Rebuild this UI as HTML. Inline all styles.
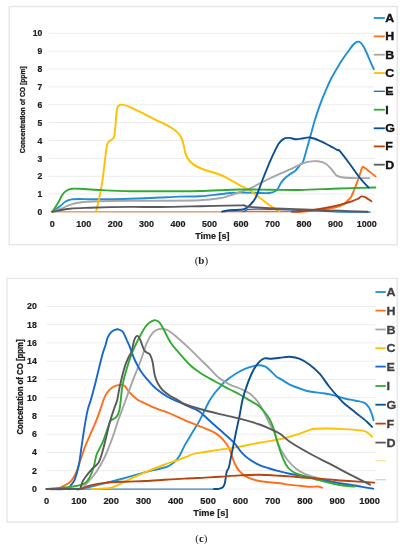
<!DOCTYPE html>
<html lang="en"><head><meta charset="utf-8"><title>Concentration of CO</title>
<style>
html,body{margin:0;padding:0;background:#fff}
svg{display:block}
.ax{font-family:"Liberation Sans",sans-serif;font-weight:bold;fill:#1c1c1c;stroke:#1c1c1c;stroke-width:.2px}
.yt{stroke-width:.3px}
.lg{fill:#111;stroke:#111;stroke-width:.35px}
.lg2{fill:#404040;stroke:#404040;stroke-width:.3px}
.cap{font-family:"Liberation Serif",serif;fill:#222}
.ln{fill:none;stroke-linecap:round;stroke-linejoin:round}
</style></head><body>
<svg width="403" height="550" viewBox="0 0 403 550">
<rect width="403" height="550" fill="#fff"/>

<g id="chart-b">
<rect x="9.3" y="6.5" width="387.9" height="238.2" fill="#fff" stroke="#e6e6e6" stroke-width="1.4"/>
<line x1="48.5" x2="374.5" y1="212.0" y2="212.0" stroke="#ececec" stroke-width="1"/>
<line x1="48.5" x2="374.5" y1="194.1" y2="194.1" stroke="#ececec" stroke-width="1"/>
<line x1="48.5" x2="374.5" y1="176.3" y2="176.3" stroke="#ececec" stroke-width="1"/>
<line x1="48.5" x2="374.5" y1="158.4" y2="158.4" stroke="#ececec" stroke-width="1"/>
<line x1="48.5" x2="374.5" y1="140.5" y2="140.5" stroke="#ececec" stroke-width="1"/>
<line x1="48.5" x2="374.5" y1="122.6" y2="122.6" stroke="#ececec" stroke-width="1"/>
<line x1="48.5" x2="374.5" y1="104.8" y2="104.8" stroke="#ececec" stroke-width="1"/>
<line x1="48.5" x2="374.5" y1="86.9" y2="86.9" stroke="#ececec" stroke-width="1"/>
<line x1="48.5" x2="374.5" y1="69.0" y2="69.0" stroke="#ececec" stroke-width="1"/>
<line x1="48.5" x2="374.5" y1="51.2" y2="51.2" stroke="#ececec" stroke-width="1"/>
<line x1="48.5" x2="374.5" y1="33.3" y2="33.3" stroke="#ececec" stroke-width="1"/>
<text class="ax" x="42.2" y="215.1" font-size="8.6" text-anchor="end">0</text>
<text class="ax" x="42.2" y="197.2" font-size="8.6" text-anchor="end">1</text>
<text class="ax" x="42.2" y="179.4" font-size="8.6" text-anchor="end">2</text>
<text class="ax" x="42.2" y="161.5" font-size="8.6" text-anchor="end">3</text>
<text class="ax" x="42.2" y="143.6" font-size="8.6" text-anchor="end">4</text>
<text class="ax" x="42.2" y="125.7" font-size="8.6" text-anchor="end">5</text>
<text class="ax" x="42.2" y="107.9" font-size="8.6" text-anchor="end">6</text>
<text class="ax" x="42.2" y="90.0" font-size="8.6" text-anchor="end">7</text>
<text class="ax" x="42.2" y="72.1" font-size="8.6" text-anchor="end">8</text>
<text class="ax" x="42.2" y="54.3" font-size="8.6" text-anchor="end">9</text>
<text class="ax" x="42.2" y="36.4" font-size="8.6" text-anchor="end">10</text>
<text class="ax" x="52.3" y="226.6" font-size="9" text-anchor="middle">0</text>
<text class="ax" x="83.8" y="226.6" font-size="9" text-anchor="middle">100</text>
<text class="ax" x="115.2" y="226.6" font-size="9" text-anchor="middle">200</text>
<text class="ax" x="146.6" y="226.6" font-size="9" text-anchor="middle">300</text>
<text class="ax" x="178.1" y="226.6" font-size="9" text-anchor="middle">400</text>
<text class="ax" x="209.6" y="226.6" font-size="9" text-anchor="middle">500</text>
<text class="ax" x="241.0" y="226.6" font-size="9" text-anchor="middle">600</text>
<text class="ax" x="272.4" y="226.6" font-size="9" text-anchor="middle">700</text>
<text class="ax" x="303.9" y="226.6" font-size="9" text-anchor="middle">800</text>
<text class="ax" x="335.4" y="226.6" font-size="9" text-anchor="middle">900</text>
<text class="ax" x="366.8" y="226.6" font-size="9" text-anchor="middle">1000</text>
<text class="ax" x="212.4" y="238.5" font-size="9" text-anchor="middle">Time [s]</text>
<text class="ax yt" transform="translate(24.5,109.7) rotate(-90)" font-size="7.2" text-anchor="middle" textLength="87" lengthAdjust="spacingAndGlyphs">Concentration of CO [ppm]</text>
<line x1="52.3" x2="226" y1="211.8" y2="211.8" stroke="#e4a27c" stroke-width="1.4"/>
<line x1="224" x2="302" y1="211.5" y2="211.5" stroke="#ea6c2c" stroke-width="1.5"/>
<path class="ln" d="M52.3,211.7C52.8,211.3 53.7,210.4 55.0,209.5C56.3,208.6 58.1,207.7 59.9,206.3C61.7,204.9 63.9,202.5 65.9,201.3C67.9,200.2 69.5,199.8 71.8,199.4C74.1,199.0 77.0,199.0 80.0,199.0C83.0,199.0 84.7,199.2 89.7,199.2C94.7,199.2 103.3,199.3 110.0,199.2C116.7,199.1 121.7,199.1 130.0,198.8C138.3,198.5 151.7,197.9 160.0,197.5C168.3,197.1 173.2,196.8 179.8,196.6C186.4,196.4 193.1,196.6 199.7,196.2C206.3,195.8 214.4,194.8 219.5,194.3C224.6,193.8 226.6,193.3 230.0,193.0C233.4,192.7 235.8,192.6 240.0,192.6C244.2,192.6 250.1,192.7 255.0,192.8C259.9,192.9 266.1,193.4 269.7,193.0C273.3,192.6 274.8,192.0 276.6,190.4C278.4,188.8 279.3,185.5 280.6,183.5C281.9,181.5 283.1,180.0 284.6,178.5C286.1,177.0 287.7,175.9 289.5,174.6C291.3,173.3 293.7,172.3 295.5,170.6C297.3,168.9 299.1,166.0 300.4,164.6C301.6,163.2 302.1,164.2 303.0,162.0C303.9,159.8 304.9,155.7 306.0,151.7C307.1,147.7 308.4,143.2 309.9,137.9C311.4,132.6 313.2,125.4 314.9,120.0C316.5,114.6 318.0,110.2 319.8,105.3C321.6,100.4 323.8,95.0 325.8,90.4C327.8,85.8 329.3,82.0 331.7,77.5C334.1,73.0 337.9,66.8 340.0,63.3C342.1,59.8 342.9,58.8 344.3,56.7C345.8,54.6 347.2,52.7 348.7,50.7C350.1,48.8 351.7,46.4 353.0,45.0C354.3,43.6 355.6,42.7 356.5,42.1C357.4,41.5 357.6,41.6 358.2,41.6C358.8,41.6 359.5,41.6 360.4,42.4C361.3,43.2 362.5,44.8 363.4,46.3C364.3,47.8 365.1,49.6 366.0,51.5C366.9,53.4 367.8,55.4 368.7,57.6C369.6,59.8 370.8,62.7 371.7,64.6C372.6,66.5 373.4,68.4 373.8,69.2" stroke="#1f8fd8" stroke-width="1.9"/>
<path class="ln" d="M296.0,211.8C297.0,211.8 298.0,211.9 302.0,211.6C306.0,211.2 314.2,210.4 319.8,209.7C325.4,209.0 331.7,208.2 335.7,207.3C339.7,206.4 341.7,205.5 343.7,204.3C345.7,203.1 346.6,201.6 347.8,200.3C349.1,199.1 350.1,198.7 351.2,196.8C352.3,194.9 353.4,191.8 354.5,189.0C355.6,186.2 356.9,182.9 357.9,180.1C358.9,177.3 360.0,174.2 360.6,172.3C361.2,170.4 361.4,169.3 361.8,168.4C362.2,167.5 362.5,167.1 362.9,166.9C363.3,166.7 363.0,166.6 364.0,167.3C365.0,168.0 367.1,169.7 369.0,171.2C370.9,172.7 374.6,175.6 375.7,176.5" stroke="#ff6e1a" stroke-width="1.9"/>
<path class="ln" d="M52.3,211.7C53.9,211.1 59.0,209.4 61.9,208.3C64.8,207.2 66.8,205.9 69.8,204.9C72.8,203.9 74.8,203.1 79.8,202.5C84.8,201.9 91.2,201.6 99.6,201.3C108.0,201.0 119.9,200.9 130.0,200.8C140.1,200.7 148.4,200.9 160.0,200.8C171.6,200.7 189.8,200.7 199.7,200.3C209.6,199.9 214.6,199.1 219.5,198.3C224.4,197.5 226.0,196.7 229.4,195.6C232.8,194.5 236.6,193.2 240.0,192.0C243.4,190.8 244.9,190.8 249.8,188.5C254.8,186.2 263.1,181.7 269.7,178.5C276.3,175.3 284.6,171.9 289.5,169.6C294.4,167.3 296.3,166.1 299.4,164.8C302.5,163.5 304.8,162.5 307.9,161.9C311.0,161.3 314.9,161.0 317.9,161.3C320.9,161.6 323.5,162.3 325.8,163.7C328.1,165.1 329.9,167.6 331.7,169.6C333.5,171.6 334.7,174.3 336.7,175.6C338.7,176.9 340.5,177.1 343.7,177.5C346.9,177.9 351.3,178.0 355.6,178.1C359.9,178.2 367.1,178.1 369.4,178.1" stroke="#a6a6a6" stroke-width="1.9"/>
<path class="ln" d="M96.0,211.7C96.3,210.6 96.8,208.7 97.6,205.3C98.4,201.9 99.7,196.1 100.6,191.4C101.5,186.7 102.1,183.3 102.9,177.3C103.7,171.3 104.8,160.8 105.5,155.5C106.2,150.2 106.4,147.9 106.9,145.6C107.5,143.3 107.7,142.9 108.8,141.6C109.9,140.3 112.8,139.4 113.8,137.6C114.8,135.8 114.6,133.4 114.9,131.0C115.2,128.6 115.4,126.3 115.7,122.9C116.0,119.5 116.4,113.3 116.8,110.6C117.2,107.8 117.4,107.4 117.9,106.4C118.5,105.4 119.3,105.1 120.1,104.8C120.9,104.5 121.5,104.5 122.9,104.7C124.3,105.0 125.7,105.2 128.5,106.3C131.3,107.4 135.1,109.3 139.6,111.6C144.1,113.8 150.4,117.2 155.5,119.8C160.6,122.3 166.2,124.7 169.9,126.9C173.6,129.1 175.9,130.8 177.9,132.8C179.9,134.8 180.8,136.7 181.8,138.8C182.8,141.0 183.2,143.4 183.8,145.7C184.4,148.0 184.5,150.5 185.2,152.7C185.9,154.8 186.4,156.6 187.8,158.6C189.2,160.6 191.0,162.8 193.7,164.6C196.3,166.4 199.4,167.8 203.7,169.5C208.0,171.2 215.2,172.8 219.5,174.5C223.8,176.2 226.0,177.6 229.4,179.4C232.8,181.2 236.6,183.6 240.0,185.4C243.4,187.2 244.9,187.1 249.8,190.4C254.8,193.7 265.2,202.1 269.7,205.3C274.1,208.5 274.9,208.8 276.5,209.8C278.1,210.8 279.0,211.0 279.5,211.2" stroke="#ffc000" stroke-width="1.9"/>
<path class="ln" d="M243.0,211.6C243.5,211.4 245.1,210.8 246.0,210.4C246.9,210.0 246.2,209.6 248.5,209.4C250.8,209.2 255.6,209.1 260.0,209.1C264.4,209.1 268.3,209.3 275.0,209.5C281.7,209.7 289.9,210.0 300.0,210.4C310.1,210.8 324.0,211.6 335.7,211.9C347.4,212.2 364.3,212.1 370.0,212.2" stroke="#1668cf" stroke-width="1.2"/>
<path class="ln" d="M52.3,211.7C53.2,210.3 56.3,206.0 57.9,203.3C59.5,200.6 60.6,197.5 61.9,195.4C63.2,193.3 64.2,192.1 65.9,191.0C67.6,189.9 69.5,189.2 71.8,188.8C74.1,188.4 75.2,188.6 79.8,188.8C84.4,189.0 91.2,189.6 99.6,190.0C108.0,190.4 119.9,191.0 130.0,191.2C140.1,191.4 148.4,191.3 160.0,191.3C171.6,191.3 186.4,191.3 199.7,191.0C213.0,190.7 228.3,189.7 240.0,189.5C251.7,189.3 260.0,189.7 270.0,189.8C280.0,189.9 288.4,190.2 300.0,190.0C311.6,189.8 327.1,188.9 339.7,188.5C352.3,188.1 369.4,187.7 375.4,187.5" stroke="#33aa33" stroke-width="1.9"/>
<path class="ln" d="M222.0,211.6C223.3,211.4 227.0,210.5 230.0,210.2C233.0,209.9 237.7,210.0 240.0,209.8C242.3,209.6 242.8,209.6 244.0,209.2C245.2,208.8 246.0,208.3 247.0,207.6C248.0,206.9 248.3,206.9 249.8,205.2C251.3,203.5 253.7,201.7 255.8,197.4C257.9,193.1 260.1,186.1 262.7,179.5C265.3,172.9 269.0,163.6 271.7,157.7C274.4,151.8 276.6,147.0 278.6,143.8C280.6,140.7 281.8,139.8 283.6,138.8C285.4,137.8 287.5,137.8 289.5,137.9C291.5,138.0 293.2,139.1 295.5,139.2C297.8,139.3 301.0,138.6 303.4,138.3C305.8,138.0 307.2,137.1 309.9,137.5C312.6,137.9 316.5,139.4 319.8,140.8C323.1,142.2 326.8,144.2 329.8,145.8C332.8,147.4 336.1,149.4 337.7,150.2C339.3,151.0 337.7,148.6 339.7,150.8C341.7,153.1 346.3,159.2 349.6,163.7C352.9,168.1 356.4,173.5 359.5,177.5C362.6,181.5 367.0,185.8 368.5,187.5" stroke="#0d4f8f" stroke-width="1.9"/>
<path class="ln" d="M292.0,211.8C292.7,211.8 294.5,211.7 296.0,211.6C297.5,211.5 297.0,211.6 301.0,211.2C305.0,210.8 313.4,209.9 319.8,208.9C326.2,207.9 334.4,206.2 339.7,204.9C345.0,203.6 348.6,202.3 351.6,201.3C354.6,200.3 355.9,199.8 357.5,199.0C359.1,198.2 360.2,196.7 361.5,196.4C362.8,196.1 363.9,196.6 365.5,197.4C367.1,198.2 370.4,200.7 371.4,201.3" stroke="#b8430f" stroke-width="1.9"/>
<path class="ln" d="M52.3,211.7C55.2,211.2 63.6,209.4 69.8,208.7C76.0,208.0 79.7,208.0 89.7,207.7C99.7,207.4 118.3,207.0 130.0,206.9C141.7,206.8 148.3,207.1 160.0,207.0C171.7,206.9 186.7,206.5 200.0,206.2C213.3,205.9 232.7,205.6 240.0,205.4C247.3,205.2 242.3,205.1 243.9,205.3C245.5,205.6 245.5,206.4 249.8,206.9C254.1,207.4 263.1,208.0 269.7,208.3C276.3,208.6 282.8,208.7 289.5,208.9C296.2,209.2 301.6,209.5 310.0,209.8C318.4,210.1 330.4,210.5 340.0,210.8C349.6,211.1 362.9,211.5 367.5,211.7" stroke="#5a5a5a" stroke-width="1.9"/>
<line x1="373.8" x2="384.8" y1="18.0" y2="18.0" stroke="#1f8fd8" stroke-width="1.8"/>
<text class="ax lg" transform="translate(385.2,21.9) scale(1.13,1)" font-size="11">A</text>
<line x1="373.8" x2="384.8" y1="36.4" y2="36.4" stroke="#ff6e1a" stroke-width="1.8"/>
<text class="ax lg" transform="translate(385.2,40.3) scale(1.13,1)" font-size="11">H</text>
<line x1="373.8" x2="384.8" y1="54.7" y2="54.7" stroke="#a6a6a6" stroke-width="1.8"/>
<text class="ax lg" transform="translate(385.2,58.6) scale(1.13,1)" font-size="11">B</text>
<line x1="373.8" x2="384.8" y1="73.0" y2="73.0" stroke="#ffc000" stroke-width="1.8"/>
<text class="ax lg" transform="translate(385.2,76.9) scale(1.13,1)" font-size="11">C</text>
<line x1="373.8" x2="384.8" y1="91.3" y2="91.3" stroke="#1668cf" stroke-width="1.3"/>
<text class="ax lg" transform="translate(385.2,95.2) scale(1.13,1)" font-size="11">E</text>
<line x1="373.8" x2="384.8" y1="109.7" y2="109.7" stroke="#33aa33" stroke-width="1.8"/>
<text class="ax lg" transform="translate(385.2,113.6) scale(1.13,1)" font-size="11">I</text>
<line x1="373.8" x2="384.8" y1="128.3" y2="128.3" stroke="#0d4f8f" stroke-width="1.8"/>
<text class="ax lg" transform="translate(385.2,132.2) scale(1.13,1)" font-size="11">G</text>
<line x1="373.8" x2="384.8" y1="146.4" y2="146.4" stroke="#b8430f" stroke-width="1.8"/>
<text class="ax lg" transform="translate(385.2,150.3) scale(1.13,1)" font-size="11">F</text>
<line x1="373.8" x2="384.8" y1="164.7" y2="164.7" stroke="#5a5a5a" stroke-width="1.8"/>
<text class="ax lg" transform="translate(385.2,168.6) scale(1.13,1)" font-size="11">D</text>
<text class="cap" x="201.4" y="264" font-size="11" text-anchor="middle">(<tspan font-weight="bold">b</tspan>)</text>
</g>
<g id="chart-c">
<rect x="6.9" y="278.4" width="390.3" height="243.7" fill="#fff" stroke="#e6e6e6" stroke-width="1.4"/>
<line x1="46.5" x2="375.5" y1="489.0" y2="489.0" stroke="#ececec" stroke-width="1"/>
<line x1="46.5" x2="375.5" y1="470.7" y2="470.7" stroke="#ececec" stroke-width="1"/>
<line x1="46.5" x2="375.5" y1="452.5" y2="452.5" stroke="#ececec" stroke-width="1"/>
<line x1="46.5" x2="375.5" y1="434.2" y2="434.2" stroke="#ececec" stroke-width="1"/>
<line x1="46.5" x2="375.5" y1="416.0" y2="416.0" stroke="#ececec" stroke-width="1"/>
<line x1="46.5" x2="375.5" y1="397.7" y2="397.7" stroke="#ececec" stroke-width="1"/>
<line x1="46.5" x2="375.5" y1="379.4" y2="379.4" stroke="#ececec" stroke-width="1"/>
<line x1="46.5" x2="375.5" y1="361.2" y2="361.2" stroke="#ececec" stroke-width="1"/>
<line x1="46.5" x2="375.5" y1="342.9" y2="342.9" stroke="#ececec" stroke-width="1"/>
<line x1="46.5" x2="375.5" y1="324.7" y2="324.7" stroke="#ececec" stroke-width="1"/>
<line x1="46.5" x2="375.5" y1="306.4" y2="306.4" stroke="#ececec" stroke-width="1"/>
<text class="ax" x="36.8" y="491.9" font-size="8.8" text-anchor="end">0</text>
<text class="ax" x="36.8" y="473.6" font-size="8.8" text-anchor="end">2</text>
<text class="ax" x="36.8" y="455.4" font-size="8.8" text-anchor="end">4</text>
<text class="ax" x="36.8" y="437.1" font-size="8.8" text-anchor="end">6</text>
<text class="ax" x="36.8" y="418.9" font-size="8.8" text-anchor="end">8</text>
<text class="ax" x="36.8" y="400.6" font-size="8.8" text-anchor="end">10</text>
<text class="ax" x="36.8" y="382.3" font-size="8.8" text-anchor="end">12</text>
<text class="ax" x="36.8" y="364.1" font-size="8.8" text-anchor="end">14</text>
<text class="ax" x="36.8" y="345.8" font-size="8.8" text-anchor="end">16</text>
<text class="ax" x="36.8" y="327.6" font-size="8.8" text-anchor="end">18</text>
<text class="ax" x="36.8" y="309.3" font-size="8.8" text-anchor="end">20</text>
<text class="ax" x="46.6" y="504.2" font-size="9.3" text-anchor="middle">0</text>
<text class="ax" x="78.9" y="504.2" font-size="9.3" text-anchor="middle">100</text>
<text class="ax" x="111.2" y="504.2" font-size="9.3" text-anchor="middle">200</text>
<text class="ax" x="143.5" y="504.2" font-size="9.3" text-anchor="middle">300</text>
<text class="ax" x="175.8" y="504.2" font-size="9.3" text-anchor="middle">400</text>
<text class="ax" x="208.1" y="504.2" font-size="9.3" text-anchor="middle">500</text>
<text class="ax" x="240.4" y="504.2" font-size="9.3" text-anchor="middle">600</text>
<text class="ax" x="272.7" y="504.2" font-size="9.3" text-anchor="middle">700</text>
<text class="ax" x="305.0" y="504.2" font-size="9.3" text-anchor="middle">800</text>
<text class="ax" x="337.3" y="504.2" font-size="9.3" text-anchor="middle">900</text>
<text class="ax" x="369.6" y="504.2" font-size="9.3" text-anchor="middle">1000</text>
<text class="ax" x="210.9" y="516" font-size="9.2" text-anchor="middle">Time [s]</text>
<text class="ax yt" transform="translate(22.9,387) rotate(-90)" font-size="8.4" text-anchor="middle" textLength="95" lengthAdjust="spacingAndGlyphs">Concetration of CO [ppm]</text>
<line x1="46.6" x2="218" y1="489.1" y2="489.1" stroke="#4080bf" stroke-width="1.4"/>
<path class="ln" d="M76.0,489.0C76.8,489.0 76.0,489.8 80.7,488.9C85.5,487.9 97.1,485.1 104.5,483.3C111.9,481.5 118.3,479.8 125.0,478.0C131.7,476.2 138.2,474.1 144.8,472.4C151.4,470.6 160.5,468.7 164.7,467.5C168.9,466.3 168.3,466.2 170.0,465.2C171.7,464.2 173.3,463.4 174.9,461.7C176.5,460.0 178.2,457.9 179.8,455.2C181.4,452.5 183.1,448.4 184.7,445.4C186.3,442.4 188.0,439.9 189.6,437.2C191.2,434.5 192.9,431.7 194.5,429.0C196.1,426.3 197.8,423.9 199.4,420.9C201.0,417.9 202.7,414.4 204.3,411.1C205.9,407.8 207.6,404.2 209.2,401.3C210.8,398.4 212.5,396.1 214.1,393.9C215.7,391.7 217.2,390.3 219.0,388.2C220.8,386.1 222.2,383.9 225.0,381.5C227.8,379.1 232.3,375.8 235.7,373.7C239.1,371.6 242.6,370.0 245.6,368.7C248.6,367.4 251.3,366.7 253.6,366.1C255.9,365.5 257.5,365.2 259.5,365.3C261.5,365.4 263.5,365.6 265.5,366.7C267.5,367.8 269.6,370.0 271.4,371.7C273.2,373.4 275.0,375.5 276.4,376.6C277.8,377.8 277.8,377.3 280.0,378.6C282.2,379.9 286.5,383.0 289.8,384.6C293.1,386.2 296.5,387.4 299.8,388.5C303.1,389.6 305.7,390.7 309.7,391.5C313.7,392.3 319.6,392.7 323.6,393.3C327.6,393.9 330.4,394.4 333.9,395.3C337.4,396.2 341.2,397.6 344.8,398.5C348.4,399.4 352.4,400.0 355.7,400.7C359.0,401.4 362.3,401.8 364.5,402.9C366.7,404.0 367.5,405.3 368.8,407.3C370.1,409.3 371.3,412.7 372.1,414.9C372.9,417.1 373.4,419.5 373.6,420.4" stroke="#1f8fd8" stroke-width="1.9"/>
<path class="ln" d="M46.6,489.0C48.3,489.0 53.9,489.5 56.9,488.9C59.9,488.3 62.5,486.6 64.8,485.3C67.1,484.0 69.0,483.3 70.8,481.3C72.6,479.3 74.1,477.0 75.8,473.4C77.5,469.8 79.2,463.8 80.7,459.5C82.2,455.2 83.1,451.9 84.7,447.6C86.3,443.3 88.6,438.3 90.6,433.7C92.6,429.1 94.8,424.4 96.6,419.8C98.4,415.2 100.3,409.3 101.5,406.0C102.7,402.7 102.6,402.1 103.5,400.0C104.4,397.9 105.2,395.4 106.7,393.3C108.2,391.2 110.4,388.7 112.6,387.3C114.8,385.9 117.6,385.1 119.6,384.9C121.6,384.7 122.8,384.7 124.5,385.9C126.2,387.1 127.5,390.1 129.5,392.3C131.5,394.5 134.7,397.4 136.4,398.8C138.2,400.2 136.9,399.5 140.0,401.0C143.1,402.5 149.8,405.8 154.8,407.9C159.8,410.0 164.8,411.3 170.0,413.5C175.2,415.7 180.9,418.6 186.3,420.9C191.8,423.2 198.1,425.5 202.7,427.4C207.3,429.3 211.1,430.7 214.1,432.3C217.1,433.9 218.6,435.3 220.7,437.2C222.8,439.1 224.8,441.6 226.4,443.8C228.0,446.0 228.6,447.0 230.0,450.3C231.4,453.6 233.1,460.0 234.7,463.5C236.3,467.0 237.5,469.1 239.7,471.4C241.8,473.7 244.3,475.8 247.6,477.4C250.9,479.0 255.9,480.2 259.5,481.0C263.1,481.8 266.0,481.9 269.4,482.3C272.8,482.7 276.5,482.9 279.9,483.3C283.3,483.7 286.5,484.5 289.8,484.9C293.1,485.3 296.5,485.4 299.8,485.7C303.1,486.0 306.7,486.8 309.7,486.9C312.7,487.0 315.6,486.4 317.6,486.5C319.7,486.6 321.3,487.5 322.0,487.7" stroke="#ff6e1a" stroke-width="1.9"/>
<path class="ln" d="M76.0,489.0C76.8,488.9 78.6,489.9 80.7,488.6C82.8,487.3 86.1,484.2 88.7,481.3C91.3,478.4 94.0,475.4 96.6,471.4C99.2,467.4 101.8,463.1 104.5,457.5C107.2,451.9 110.2,444.0 112.5,437.7C114.8,431.4 116.3,425.8 118.4,419.8C120.5,413.9 122.7,408.4 125.0,402.0C127.3,395.6 129.9,388.1 132.5,381.3C135.1,374.6 138.0,367.9 140.4,361.5C142.8,355.1 144.8,347.5 146.9,342.7C149.0,337.9 150.9,334.9 152.9,332.7C154.9,330.4 157.2,329.8 158.8,329.2C160.5,328.6 161.2,328.5 162.8,328.8C164.5,329.1 166.0,329.2 168.7,330.8C171.3,332.4 175.0,335.6 178.7,338.7C182.3,341.8 186.6,345.8 190.6,349.6C194.6,353.4 199.3,358.3 202.5,361.5C205.7,364.7 207.0,365.8 209.9,368.7C212.8,371.6 216.5,376.0 219.8,378.6C223.1,381.2 226.5,383.0 229.8,384.6C233.1,386.2 236.4,387.0 239.7,388.5C243.0,390.0 246.6,391.4 249.6,393.5C252.6,395.6 255.2,398.4 257.5,401.4C259.8,404.4 261.5,407.6 263.5,411.3C265.5,415.0 267.6,419.9 269.4,423.3C271.1,426.8 272.6,428.7 274.0,432.0C275.4,435.3 276.6,439.7 277.9,443.0C279.2,446.3 280.2,448.7 281.9,451.6C283.6,454.5 285.6,457.7 287.9,460.5C290.2,463.3 293.2,466.4 295.8,468.5C298.4,470.6 301.1,472.1 303.7,473.4C306.3,474.7 309.0,475.6 311.7,476.4C314.4,477.2 316.0,477.5 319.6,478.4C323.2,479.3 328.4,481.0 333.5,482.0C338.6,483.0 345.6,483.8 350.0,484.5C354.4,485.2 358.3,485.8 360.0,486.0" stroke="#a6a6a6" stroke-width="1.9"/>
<path class="ln" d="M92.0,489.0C93.4,488.9 97.2,488.9 100.6,488.6C104.0,488.3 108.4,488.5 112.5,487.3C116.6,486.1 119.6,484.0 125.0,481.5C130.4,479.0 138.2,475.2 144.8,472.4C151.4,469.6 159.4,466.5 164.7,464.5C170.0,462.5 173.3,461.7 176.6,460.5C179.9,459.3 181.5,458.6 184.5,457.5C187.5,456.4 191.0,454.5 194.4,453.6C197.8,452.7 200.8,452.7 205.0,452.0C209.2,451.3 214.0,450.5 219.8,449.6C225.6,448.7 233.1,447.8 239.7,446.6C246.3,445.5 252.8,443.9 259.5,442.7C266.2,441.5 274.8,440.3 279.9,439.3C284.9,438.3 286.5,437.6 289.8,436.7C293.1,435.8 296.5,434.8 299.8,433.7C303.1,432.6 307.1,430.6 309.7,429.8C312.3,429.0 312.3,429.0 315.6,428.8C318.9,428.6 324.6,428.4 329.5,428.5C334.4,428.6 339.3,428.8 344.8,429.1C350.3,429.5 358.5,430.0 362.3,430.6C366.1,431.2 366.1,431.8 367.7,432.8C369.3,433.8 371.4,436.1 372.1,436.7" stroke="#ffc000" stroke-width="1.9"/>
<path class="ln" d="M46.6,489.0C50.0,489.0 62.8,489.5 66.8,488.9C70.8,488.3 69.5,486.9 70.8,485.3C72.1,483.7 73.5,482.7 74.8,479.4C76.1,476.1 77.5,471.1 78.7,465.5C79.9,459.9 80.7,452.2 81.7,445.6C82.7,439.0 83.7,431.8 84.7,425.8C85.7,419.9 86.7,414.2 87.7,409.9C88.7,405.6 89.6,404.1 90.8,400.0C92.0,395.9 93.5,390.4 94.8,385.3C96.1,380.2 97.4,374.7 98.7,369.4C100.0,364.1 101.6,357.7 102.7,353.6C103.8,349.5 104.8,347.6 105.6,345.0C106.4,342.4 106.6,339.9 107.5,337.8C108.4,335.7 110.0,333.5 111.2,332.2C112.4,330.9 113.7,330.4 114.9,329.9C116.1,329.4 117.0,329.1 118.3,329.3C119.5,329.6 121.4,330.4 122.4,331.4C123.5,332.4 123.8,333.6 124.6,335.1C125.3,336.6 126.2,338.6 126.9,340.3C127.7,342.0 128.4,343.6 129.1,345.2C129.8,346.8 129.8,347.1 130.8,349.6C131.8,352.2 133.3,356.9 135.0,360.5C136.7,364.1 138.7,367.9 141.0,371.4C143.3,374.9 146.3,378.3 148.9,381.3C151.5,384.3 153.8,386.8 156.8,389.3C159.8,391.8 163.1,394.1 166.7,396.2C170.3,398.3 174.0,399.9 178.6,402.0C183.2,404.1 190.8,407.3 194.4,409.0C198.0,410.7 197.4,410.0 200.0,412.0C202.6,414.0 206.6,418.0 209.9,421.0C213.2,424.0 216.5,426.9 219.8,429.8C223.1,432.8 227.2,436.2 229.8,438.7C232.5,441.2 233.7,442.3 235.7,444.6C237.7,446.9 239.4,450.1 241.7,452.6C244.0,455.1 246.6,457.4 249.6,459.5C252.6,461.6 256.2,463.6 259.5,465.1C262.8,466.6 266.0,467.4 269.4,468.5C272.8,469.6 276.5,470.5 279.9,471.4C283.3,472.3 284.8,472.8 289.8,473.8C294.8,474.8 303.1,476.1 309.7,477.4C316.3,478.6 323.6,480.1 329.5,481.3C335.4,482.5 339.3,483.4 344.8,484.3C350.3,485.2 357.6,486.2 362.3,486.9C367.0,487.6 371.4,488.4 373.2,488.7" stroke="#1668cf" stroke-width="1.9"/>
<path class="ln" d="M46.6,489.0C48.3,488.9 52.2,488.8 56.9,488.3C61.6,487.9 70.2,487.1 74.8,486.3C79.4,485.5 82.2,484.8 84.7,483.3C87.2,481.8 88.1,480.0 89.6,477.4C91.1,474.8 92.4,471.3 93.6,467.5C94.8,463.7 95.1,458.7 96.6,454.6C98.1,450.5 100.5,447.5 102.5,442.7C104.5,437.9 107.2,429.4 108.5,425.8C109.8,422.2 109.2,422.3 110.5,420.8C111.8,419.3 114.9,418.7 116.4,416.9C117.9,415.1 118.7,412.7 119.4,409.9C120.1,407.1 120.3,404.1 120.8,400.0C121.3,395.9 121.5,390.4 122.5,385.3C123.5,380.2 124.8,375.0 126.5,369.4C128.2,363.8 130.5,356.6 132.5,351.6C134.5,346.6 136.7,342.6 138.4,339.2C140.1,335.8 141.1,333.9 142.5,331.5C143.9,329.1 145.3,326.5 146.9,324.8C148.5,323.1 150.4,321.9 151.9,321.2C153.4,320.5 154.5,320.1 155.8,320.4C157.1,320.7 158.5,321.2 159.8,322.8C161.1,324.4 162.0,326.5 163.8,329.8C165.6,333.1 168.2,338.9 170.7,342.7C173.2,346.5 175.4,348.8 178.7,352.6C182.0,356.4 187.0,362.1 190.6,365.5C194.2,368.9 196.8,370.5 200.0,372.7C203.2,374.9 206.6,376.7 209.9,378.6C213.2,380.5 216.5,382.2 219.8,384.0C223.1,385.8 226.5,387.8 229.8,389.5C233.1,391.2 236.4,392.7 239.7,394.5C243.0,396.3 246.3,398.4 249.6,400.4C252.9,402.4 256.9,404.2 259.5,406.4C262.1,408.5 263.8,411.0 265.5,413.3C267.2,415.6 268.6,417.2 270.0,420.0C271.4,422.8 272.7,425.9 274.0,429.8C275.3,433.8 276.6,439.4 277.9,443.7C279.2,448.0 280.6,452.1 281.9,455.6C283.2,459.1 284.6,462.2 285.9,464.5C287.2,466.8 288.1,467.9 289.8,469.4C291.5,470.9 293.2,472.2 295.8,473.4C298.4,474.6 301.7,475.2 305.7,476.4C309.7,477.6 315.0,479.2 319.6,480.4C324.2,481.6 329.3,482.8 333.5,483.7C337.7,484.6 341.3,485.3 344.8,485.8C348.3,486.3 353.0,486.4 354.6,486.5" stroke="#33aa33" stroke-width="1.9"/>
<path class="ln" d="M214.0,489.0C214.8,489.0 217.3,489.2 218.8,488.9C220.3,488.6 221.8,488.2 222.8,487.3C223.8,486.4 224.1,486.0 224.8,483.3C225.5,480.6 226.1,474.0 226.8,471.4C227.5,468.8 228.0,470.5 228.8,467.5C229.6,464.5 230.5,459.2 231.7,453.6C232.8,448.0 234.4,440.1 235.7,433.7C237.0,427.3 238.5,420.8 239.7,415.0C240.9,409.2 241.4,404.2 242.7,399.0C244.0,393.8 245.8,388.5 247.6,383.6C249.4,378.7 251.6,373.4 253.6,369.7C255.6,366.0 257.7,363.6 259.5,361.7C261.3,359.8 262.5,358.9 264.5,358.4C266.5,357.9 268.8,358.9 271.4,358.8C274.0,358.7 276.8,358.1 279.9,357.8C283.0,357.5 286.5,356.6 289.8,356.8C293.1,357.0 296.5,357.5 299.8,358.8C303.1,360.1 306.4,362.2 309.7,364.7C313.0,367.2 316.3,370.0 319.6,373.7C322.9,377.4 326.2,382.9 329.5,387.0C332.8,391.1 336.8,395.7 339.4,398.5C341.9,401.3 342.1,401.6 344.8,404.0C347.5,406.4 352.1,409.8 355.7,412.7C359.3,415.6 363.9,419.1 366.6,421.5C369.3,423.9 371.2,426.0 372.1,426.9" stroke="#0d4f8f" stroke-width="1.9"/>
<path class="ln" d="M76.0,489.0C76.8,489.0 78.3,489.5 80.7,488.9C83.1,488.3 86.6,486.3 90.6,485.3C94.6,484.3 98.8,483.5 104.5,482.9C110.2,482.3 118.3,482.0 125.0,481.7C131.7,481.4 138.2,481.3 144.8,481.0C151.4,480.7 158.1,480.2 164.7,479.8C171.3,479.4 177.8,479.0 184.5,478.6C191.2,478.2 199.1,477.9 205.0,477.6C210.9,477.3 214.0,477.2 219.8,476.8C225.6,476.4 233.1,475.7 239.7,475.4C246.3,475.1 252.8,474.7 259.5,474.8C266.2,474.9 274.8,475.5 279.9,475.8C284.9,476.1 284.8,476.0 289.8,476.4C294.8,476.8 303.1,477.5 309.7,478.0C316.3,478.5 323.6,478.9 329.5,479.4C335.4,479.9 337.3,480.3 344.8,480.8C352.3,481.3 369.4,482.3 374.3,482.6" stroke="#b8430f" stroke-width="1.9"/>
<path class="ln" d="M46.6,489.0C51.8,489.0 72.3,489.2 78.0,488.9C83.7,488.6 79.9,488.6 80.7,487.3C81.5,486.0 81.7,483.3 82.7,481.3C83.7,479.3 85.1,477.5 86.7,475.4C88.3,473.3 90.6,470.6 92.6,468.5C94.6,466.4 96.9,465.3 98.6,462.5C100.2,459.7 101.2,456.1 102.5,451.6C103.8,447.1 105.2,441.0 106.5,435.7C107.8,430.4 109.2,424.4 110.5,419.8C111.8,415.2 113.3,411.2 114.4,407.9C115.5,404.6 116.3,403.4 117.2,400.0C118.1,396.6 118.4,392.7 119.6,387.3C120.8,381.9 123.0,372.5 124.5,367.5C126.0,362.5 127.3,360.1 128.5,357.5C129.7,354.9 130.5,354.6 131.5,351.6C132.5,348.6 133.4,342.3 134.4,339.7C135.4,337.1 136.4,335.9 137.4,335.9C138.4,335.9 139.1,337.4 140.2,339.7C141.3,342.0 142.8,347.5 143.9,349.6C145.0,351.8 145.9,351.8 146.9,352.6C147.9,353.4 149.0,353.1 149.9,354.6C150.8,356.1 151.7,358.0 152.5,361.5C153.3,365.0 153.9,371.8 154.8,375.4C155.7,379.0 156.5,380.8 157.8,383.3C159.1,385.8 160.7,388.2 162.8,390.3C165.0,392.4 168.2,394.6 170.7,396.2C173.2,397.8 175.4,398.7 177.7,400.0C180.0,401.3 180.8,402.5 184.5,404.0C188.2,405.5 194.1,407.3 200.0,409.0C205.9,410.7 213.2,412.5 219.8,414.1C226.4,415.7 233.1,416.9 239.7,418.6C246.3,420.3 254.4,422.8 259.5,424.5C264.6,426.2 266.6,427.3 270.0,428.8C273.4,430.3 276.6,431.6 279.9,433.7C283.2,435.8 284.8,438.4 289.8,441.7C294.8,445.0 303.1,449.8 309.7,453.5C316.3,457.2 323.6,460.6 329.5,463.7C335.4,466.8 338.1,468.3 344.8,471.8C351.5,475.3 365.7,482.6 369.9,484.7" stroke="#5a5a5a" stroke-width="1.9"/>
<line x1="375.4" x2="385.8" y1="292.0" y2="292.0" stroke="#1f8fd8" stroke-width="1.8"/>
<text class="ax lg2" transform="translate(386.4,296.2) scale(1.08,1)" font-size="11.6">A</text>
<line x1="375.4" x2="385.8" y1="310.6" y2="310.6" stroke="#ff6e1a" stroke-width="1.8"/>
<text class="ax lg2" transform="translate(386.4,314.8) scale(1.08,1)" font-size="11.6">H</text>
<line x1="375.4" x2="385.8" y1="329.5" y2="329.5" stroke="#a6a6a6" stroke-width="1.8"/>
<text class="ax lg2" transform="translate(386.4,333.7) scale(1.08,1)" font-size="11.6">B</text>
<line x1="375.4" x2="385.8" y1="348.2" y2="348.2" stroke="#ffc000" stroke-width="1.8"/>
<text class="ax lg2" transform="translate(386.4,352.4) scale(1.08,1)" font-size="11.6">C</text>
<line x1="375.4" x2="385.8" y1="366.6" y2="366.6" stroke="#1668cf" stroke-width="1.8"/>
<text class="ax lg2" transform="translate(386.4,370.8) scale(1.08,1)" font-size="11.6">E</text>
<line x1="375.4" x2="385.8" y1="386.0" y2="386.0" stroke="#33aa33" stroke-width="1.8"/>
<text class="ax lg2" transform="translate(386.4,390.2) scale(1.08,1)" font-size="11.6">I</text>
<line x1="375.4" x2="385.8" y1="404.7" y2="404.7" stroke="#0d4f8f" stroke-width="1.8"/>
<text class="ax lg2" transform="translate(386.4,408.9) scale(1.08,1)" font-size="11.6">G</text>
<line x1="375.4" x2="385.8" y1="423.6" y2="423.6" stroke="#b8430f" stroke-width="1.8"/>
<text class="ax lg2" transform="translate(386.4,427.8) scale(1.08,1)" font-size="11.6">F</text>
<line x1="375.4" x2="385.8" y1="442.6" y2="442.6" stroke="#5a5a5a" stroke-width="1.8"/>
<text class="ax lg2" transform="translate(386.4,446.8) scale(1.08,1)" font-size="11.6">D</text>
<line x1="375.4" x2="385.8" y1="460.7" y2="460.7" stroke="#ffe3a0" stroke-width="1.4"/>
<line x1="375.4" x2="385.8" y1="479.7" y2="479.7" stroke="#c9d8f2" stroke-width="1.4"/>
<text class="cap" x="201.4" y="541.8" font-size="11" text-anchor="middle">(<tspan font-weight="bold">c</tspan>)</text>
</g>
</svg></body></html>
